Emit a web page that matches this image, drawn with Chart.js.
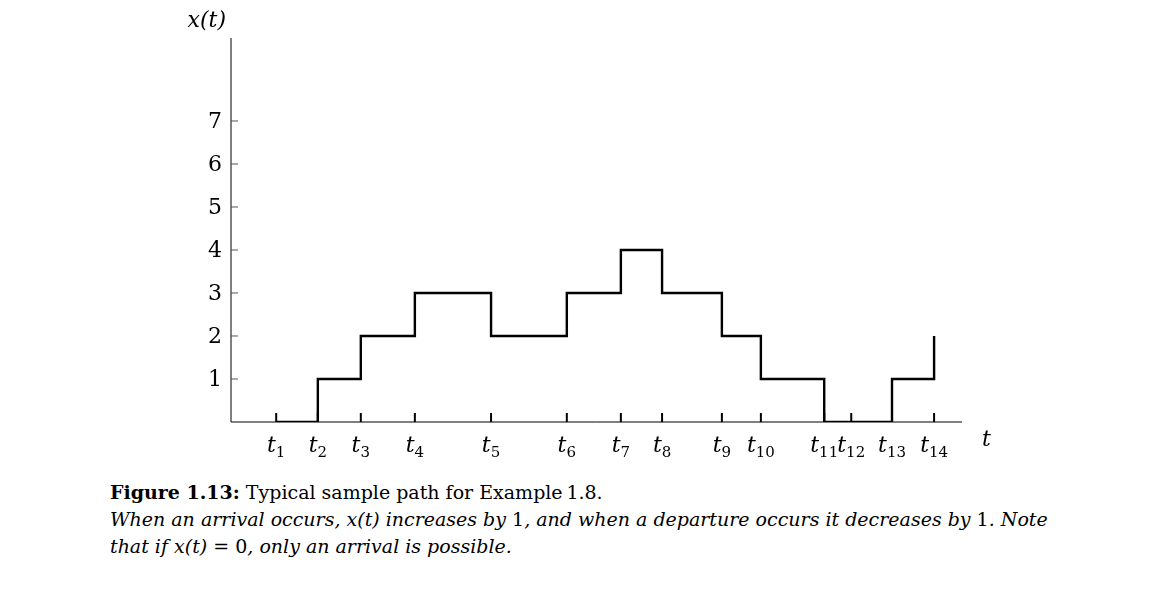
<!DOCTYPE html>
<html><head><meta charset="utf-8">
<script src="https://cdn.jsdelivr.net/npm/chart.js@4"></script>
<style>
body{margin:0;background:#fff;font-family:"DejaVu Serif",serif;}
#wrap{position:absolute;left:0;top:0;width:1151px;height:470px;}
#cap{position:absolute;left:110px;top:479px;width:1040px;font-size:19px;line-height:27px;color:#000;}
</style></head><body>
<div id="wrap"><canvas id="c"></canvas></div>
<div id="cap"><b>Figure 1.13:</b> Typical sample path for Example&thinsp;1.8.<br>
<i>When an arrival occurs, x(t) increases by</i> 1<i>, and when a departure occurs it decreases by</i> 1<i>. Note<br>that if x(t)</i> = 0<i>, only an arrival is possible.</i></div>
<script>
const eventTimes = [1.02, 1.96, 2.93, 4.15, 5.87, 7.58, 8.80, 9.73, 11.08, 11.96, 13.39, 14.0, 14.92, 15.87];
const levelAfter = [1, 2, 3, 2, 3, 4, 3, 2, 1, 0, 0, 1, 2, 2];
const yTicks = [1, 2, 3, 4, 5, 6, 7];
const tLabels = eventTimes.map((t, i) => String(i + 1));

// level just before each event time, so a step-before line turns at each t
const pts = eventTimes.map((t, i) => ({x: t, y: i === 0 ? 0 : levelAfter[i - 1]}));
pts.push({x: eventTimes[eventTimes.length - 1], y: levelAfter[levelAfter.length - 1]});

const marks = {
  id: "marks",
  afterDraw(chart) {
    const c = chart.ctx, xs = chart.scales.x, ys = chart.scales.y;
    const x0 = xs.left, y0 = ys.bottom;
    const serif = "'DejaVu Serif', serif";
    c.save();
    c.strokeStyle = "#000"; c.lineWidth = 1;
    c.beginPath(); c.moveTo(x0, ys.top); c.lineTo(x0, y0); c.lineTo(xs.right, y0); c.stroke();
    c.strokeStyle = "#555";
    c.font = "22px " + serif; c.fillStyle = "#000";
    c.textAlign = "right"; c.textBaseline = "middle";
    yTicks.forEach(v => {
      const y = ys.getPixelForValue(v);
      c.beginPath(); c.moveTo(x0, y); c.lineTo(x0 + 7, y); c.stroke();
      c.fillText(String(v), x0 - 9, y + 1);
    });
    c.strokeStyle = "#000"; c.lineWidth = 2;
    eventTimes.forEach((t, i) => {
      const x = xs.getPixelForValue(t);
      c.beginPath(); c.moveTo(x, y0); c.lineTo(x, y0 - 9); c.stroke();
      c.font = "italic 22px " + serif;
      const w1 = c.measureText("t").width;
      c.font = "15px " + serif;
      const w2 = c.measureText(tLabels[i]).width;
      const sx = x - (w1 + w2) / 2;
      c.textAlign = "left"; c.textBaseline = "alphabetic";
      c.font = "italic 22px " + serif;
      c.fillText("t", sx, 452);
      c.font = "15px " + serif;
      c.fillText(tLabels[i], sx + w1, 457);
    });
    c.font = "italic 22px " + serif;
    c.fillText("t", 982, 446);
    c.textAlign = "right";
    c.fillText("x(t)", 226, 27);
    c.restore();
  }
};

new Chart(document.getElementById("c"), {
  type: "line",
  data: {datasets: [{data: pts, stepped: "before", borderColor: "#000", borderWidth: 2.4, pointRadius: 0, fill: false}]},
  options: {
    responsive: true, maintainAspectRatio: false, animation: false,
    layout: {padding: {left: 231, right: 189, top: 38, bottom: 48}},
    plugins: {legend: {display: false}, tooltip: {enabled: false}},
    scales: {
      x: {type: "linear", min: 0, max: 16.5, display: false},
      y: {type: "linear", min: 0, max: 8.93, display: false}
    }
  },
  plugins: [marks]
});
</script>
</body></html>
